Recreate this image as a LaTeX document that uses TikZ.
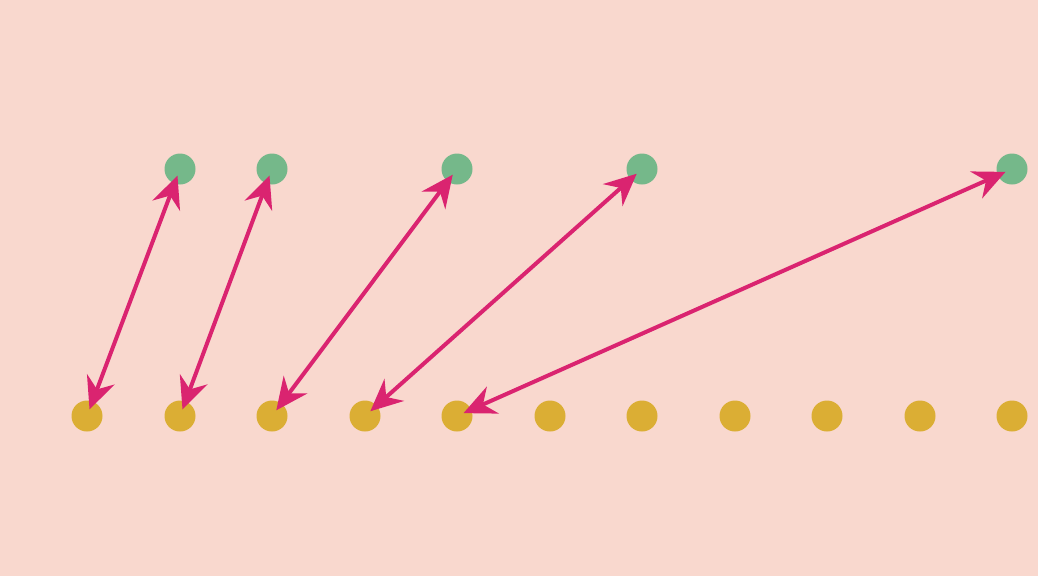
\documentclass[tikz,border=0pt]{standalone}
\usepackage{tikz}
\usetikzlibrary{arrows.meta}

\definecolor{bgpink}{RGB}{249,216,206}
\definecolor{dotgreen}{RGB}{117,184,138}
\definecolor{dotyellow}{RGB}{219,174,52}
\definecolor{arrowpink}{RGB}{218,36,112}

\begin{document}
\begin{tikzpicture}[x=0.75pt,y=0.75pt,yscale=-1,xscale=1,
  greendot/.style={circle,fill=dotgreen,inner sep=0,minimum size=23.25pt},
  yellowdot/.style={circle,fill=dotyellow,inner sep=0,minimum size=23.25pt},
  pairarrow/.style={draw=arrowpink,line width=3pt,
    {Stealth[length=24pt,width=22pt,inset=8pt]}-{Stealth[length=24pt,width=22pt,inset=8pt]},
    shorten <=-6.5pt,shorten >=-6.5pt}]
%Shape: Background
\fill [bgpink] (0,0) rectangle (1038,576);
\useasboundingbox (0,0) rectangle (1038,576);

%Shape: Circle (top row)
\node [greendot] (g1) at (180,169) {};
\node [greendot] (g2) at (272,169) {};
\node [greendot] (g3) at (457,169) {};
\node [greendot] (g4) at (642,169) {};
\node [greendot] (g5) at (1012,169) {};

%Shape: Circle (bottom row)
\node [yellowdot] (y1) at (87,416) {};
\node [yellowdot] (y2) at (180,416) {};
\node [yellowdot] (y3) at (272,416) {};
\node [yellowdot] (y4) at (365,416) {};
\node [yellowdot] (y5) at (457,416) {};
\node [yellowdot] (y6) at (550,416) {};
\node [yellowdot] (y7) at (642,416) {};
\node [yellowdot] (y8) at (735,416) {};
\node [yellowdot] (y9) at (827,416) {};
\node [yellowdot] (y10) at (920,416) {};
\node [yellowdot] (y11) at (1012,416) {};

%Straight Lines
\draw [pairarrow] (y1) -- (g1) ;
\draw [pairarrow] (y2) -- (g2) ;
\draw [pairarrow] (y3) -- (g3) ;
\draw [pairarrow] (y4) -- (g4) ;
\draw [pairarrow] (y5) -- (g5) ;

\end{tikzpicture}
\end{document}
